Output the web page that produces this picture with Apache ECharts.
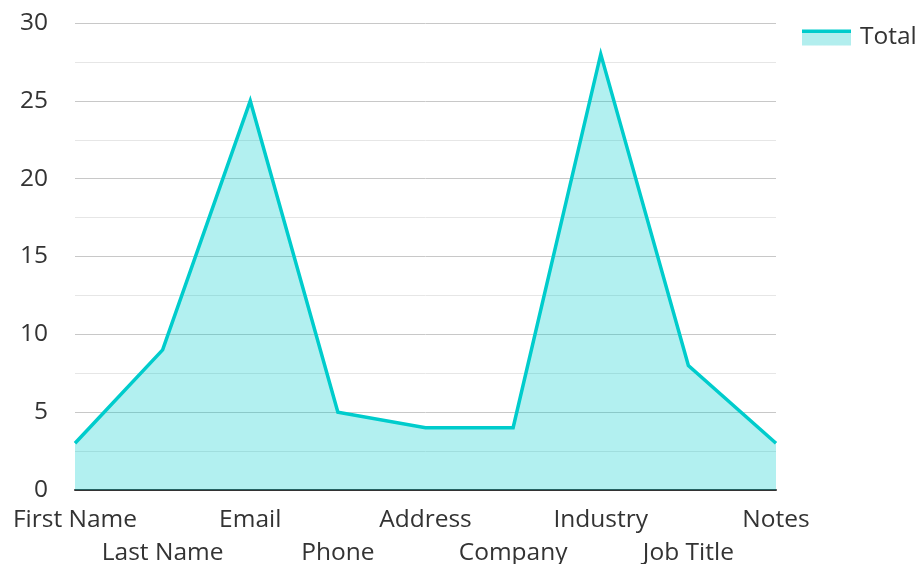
<!DOCTYPE html>
<html><head><meta charset="utf-8">
<script src="https://cdn.jsdelivr.net/npm/echarts@6/dist/echarts.min.js"></script>
<style>html,body{margin:0;padding:0;background:#fff}#c{width:917px;height:564px}</style>
</head><body><div id="c"></div>
<script>
const categories = ['First Name','Last Name','Email','Phone','Address','Company','Industry','Job Title','Notes'];
const totalValues = [3, 9, 25, 5, 4, 4, 28, 8, 3];
const seriesName = 'Total';
const yTicks = {min: 0, max: 30, interval: 5};

const chart = echarts.init(document.getElementById('c'));
const font = '"Open Sans", "Noto Sans", sans-serif';
chart.setOption({
  animation: false,
  textStyle: {fontFamily: font},
  grid: {left: 75, right: 141, top: 23, bottom: 74, containLabel: false, outerBoundsMode: 'none'},
  legend: {
    left: 802, top: 25, padding: 0, itemWidth: 49, itemHeight: 16, itemGap: 9,
    icon: 'rect',
    textStyle: {fontSize: 24.5, color: '#333', fontFamily: font, padding: [0, 0, 0, 4]},
    data: [{name: seriesName, itemStyle: {color: new echarts.graphic.LinearGradient(0,0,0,1,[
      {offset:0,color:'#00cccc'},{offset:0.22,color:'#00cccc'},{offset:0.22,color:'#b2eeee'},{offset:1,color:'#b2eeee'}]) }}]
  },
  xAxis: {
    type: 'category', boundaryGap: false, data: categories,
    axisLine: {lineStyle: {color: '#333', width: 2}},
    axisTick: {show: false},
    axisLabel: {
      interval: 0, fontSize: 24.5, color: '#333', lineHeight: 33, margin: 14,
      formatter: (v, i) => (i % 2 ? '\n' + v : v)
    }
  },
  yAxis: {
    type: 'value', min: yTicks.min, max: yTicks.max, interval: yTicks.interval,
    axisLine: {show: false}, axisTick: {show: false},
    axisLabel: {fontSize: 24.5, color: '#333', margin: 27},
    splitLine: {lineStyle: {color: '#c8c8c8', width: 1}},
    minorTick: {show: false, splitNumber: 2},
    minorSplitLine: {show: true, lineStyle: {color: '#e6e6e6', width: 1}}
  },
  series: [{
    name: seriesName, type: 'line', data: totalValues,
    showSymbol: false, symbol: 'none',
    lineStyle: {color: '#00cccc', width: 3.5, join: 'miter', miterLimit: 20},
    itemStyle: {color: '#00cccc'},
    areaStyle: {color: 'rgba(0,204,204,0.3)', opacity: 1}
  }]
});
</script></body></html>
